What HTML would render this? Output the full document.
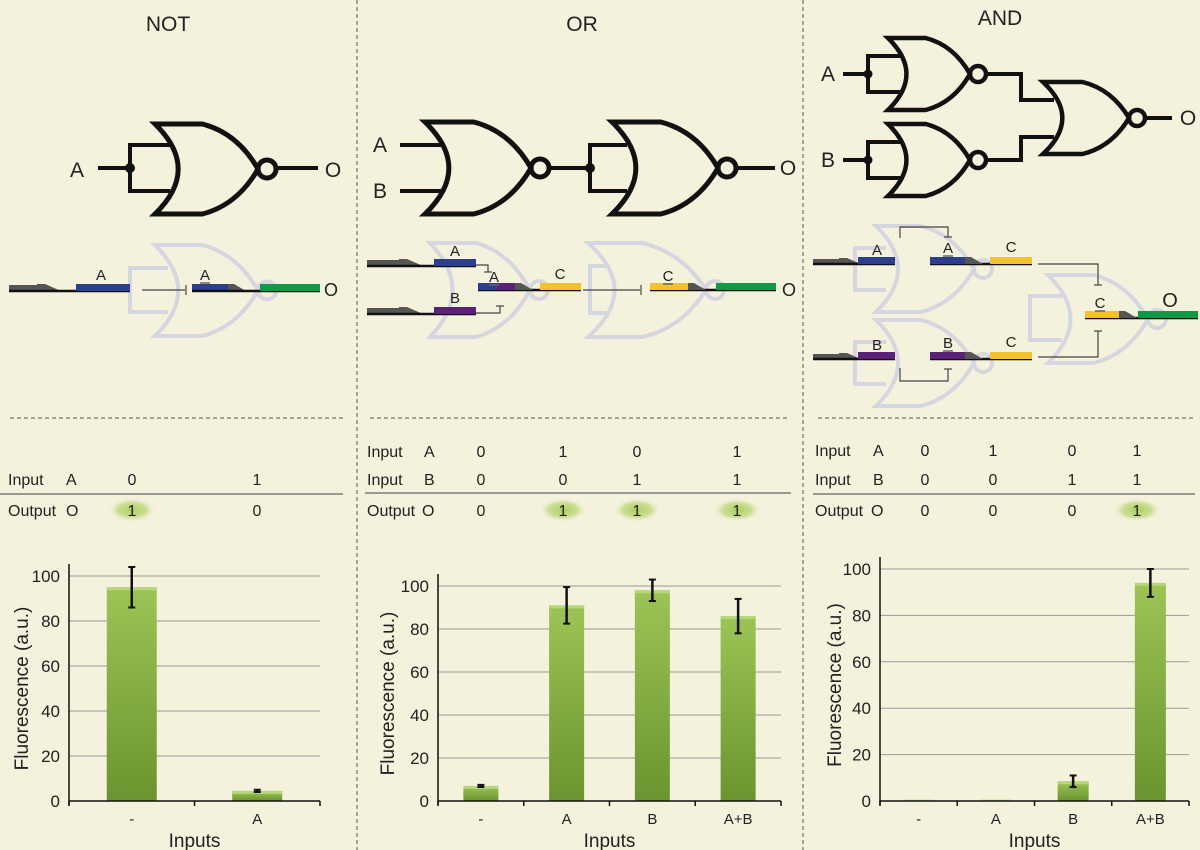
<!DOCTYPE html>
<html><head><meta charset="utf-8"><style>
html,body{margin:0;padding:0;background:#f4f1dc;}
svg{display:block;font-family:"Liberation Sans",sans-serif;}
</style></head><body>
<svg id="fig" width="1200" height="850" viewBox="0 0 1200 850">
<defs>
<linearGradient id="barg" x1="0" y1="0" x2="0" y2="1"><stop offset="0" stop-color="#9cc455"/><stop offset="1" stop-color="#6b9430"/></linearGradient>
<radialGradient id="glow"><stop offset="0" stop-color="#a9cc5a" stop-opacity="0.95"/><stop offset="0.6" stop-color="#b9d675" stop-opacity="0.7"/><stop offset="1" stop-color="#f4f1dc" stop-opacity="0"/></radialGradient>
</defs>
<rect width="1200" height="850" fill="#f4f1dc"/>
<g stroke="#555" stroke-width="1" stroke-dasharray="4,3">
<line x1="357" y1="0" x2="357" y2="850"/><line x1="803" y1="0" x2="803" y2="850"/>
<line x1="10" y1="418" x2="343" y2="418"/><line x1="370" y1="418" x2="790" y2="418"/><line x1="818" y1="418" x2="1193" y2="418"/>
</g>
<g font-size="21" fill="#222" text-anchor="middle">
<text x="168" y="31">NOT</text>
<text x="582" y="31">OR</text>
<text x="1000" y="25">AND</text>
</g>
<g id="gates"></g>
<g id="ghosts"></g>
<g id="genes"></g>
<g id="tables"></g>
<g id="charts"></g>
</svg>
<script>
// ---- chart data ----
const notCats = ["-","A"];
const notVals = [95,4.5];
const notErr = [9,0.5];
const orCats = ["-","A","B","A+B"];
const orVals = [7,91,98,86];
const orErr = [0.5,8.5,5,8];
const andCats = ["-","A","B","A+B"];
const andVals = [0.5,0.5,8.5,94];
const andErr = [0,0,2.5,6];
const yTicks = [0,20,40,60,80,100];

const NS="http://www.w3.org/2000/svg";
function mk(parent,tag,attrs,text){const e=document.createElementNS(NS,tag);for(const k in attrs)e.setAttribute(k,attrs[k]);if(text!==undefined)e.textContent=text;parent.appendChild(e);return e;}
function gatePath(x,yt,w,h){const yb=yt+h,ym=yt+h/2,f=x+0.46*w;return `M${x},${yt} L${f},${yt} Q${x+0.8*w},${yt+0.1*h} ${x+w},${ym} Q${x+0.8*w},${yb-0.1*h} ${f},${yb} L${x},${yb} Q${x+0.45*w},${ym} ${x},${yt} Z`;}

const G=document.getElementById('gates');
function gate(parent,x,yt,w,h,col,sw,r){
  const p=mk(parent,'path',{d:gatePath(x,yt,w,h),fill:'none',stroke:col,'stroke-width':sw,'stroke-linejoin':'miter'});
  
  
  const c=mk(parent,'circle',{cx:x+w+r,cy:yt+h/2,r:r,fill:'none',stroke:col,'stroke-width':sw});
  
  
}
function pl(parent,pts,col,sw){const e=mk(parent,'polyline',{points:pts,fill:'none',stroke:col,'stroke-width':sw});return e;}
function txt(parent,x,y,s,size,anchor,name){const t=mk(parent,'text',{x:x,y:y,'font-size':size,'text-anchor':anchor||'middle',fill:'#222'},s);return t;}

// NOT symbol
gate(G,155,124,103,90,'#111',5,9);
pl(G,"98,168 130,168",'#111',4);pl(G,"170,145 130,145 130,191 170,191",'#111',4);
mk(G,'circle',{cx:130,cy:168,r:5,fill:'#111'});
pl(G,"277,168 318,168",'#111',4);
txt(G,77,177,"A",21);txt(G,333,177,"O",21);
// OR symbol
gate(G,425,122,106,92,'#111',5,9);
pl(G,"400,145 442,145",'#111',4);pl(G,"400,191 442,191",'#111',4);
pl(G,"549,168 590,168",'#111',4);pl(G,"627,145 590,145 590,191 627,191",'#111',4);
mk(G,'circle',{cx:590,cy:168,r:5,fill:'#111'});
gate(G,612,122,106,92,'#111',5,9);
pl(G,"736,168 775,168",'#111',4);
txt(G,380,152,"A",21);txt(G,380,198,"B",21);txt(G,788,175,"O",21);
// AND symbol
gate(G,888,38,82,72,'#111',4.5,8);gate(G,888,124,82,72,'#111',4.5,8);
[74,160].forEach(y=>{pl(G,`843,${y} 868,${y}`,'#111',4);pl(G,`902,${y-18} 868,${y-18} 868,${y+18} 902,${y+18}`,'#111',4);mk(G,'circle',{cx:868,cy:y,r:4.5,fill:'#111'});});
pl(G,"987,74 1021,74 1021,100 1054,100",'#111',4);pl(G,"987,160 1021,160 1021,137 1054,137",'#111',4);
gate(G,1043,82,86,72,'#111',4.5,8);
pl(G,"1145,118 1172,118",'#111',4);
txt(G,828,81,"A",21);txt(G,828,167,"B",21);txt(G,1188,125,"O",21);

// ghost gates
const GH=document.getElementById('ghosts');
const gc='#d5d6df';
gate(GH,155,245,103,91,gc,4,9);pl(GH,"168,268 130,268 130,312 168,312",gc,4);
gate(GH,430,243,100,94,gc,4,9);
gate(GH,588,243,118,94,gc,4,9);pl(GH,"608,266 590,266 590,313 608,313",gc,4);
gate(GH,876,226,98,86,gc,4,9);pl(GH,"886,248 855,248 855,290 886,290",gc,4);
gate(GH,876,320,98,86,gc,4,9);pl(GH,"886,342 855,342 855,384 886,384",gc,4);
gate(GH,1048,275,100,88,gc,4,9);pl(GH,"1062,296 1030,296 1030,340 1062,340",gc,4);

// gene parts
const GN=document.getElementById('genes');
function promoter(x,y,len){pl(GN,`${x},${y} ${x+len},${y}`,'#555',6);mk(GN,'path',{d:`M${x+len-8},${y-4} L${x+len},${y-4} L${x+len+16},${y+3} L${x+len-8},${y+3}Z`,fill:'#555'});}
function box(x,y,w,col,name){const r=mk(GN,'rect',{x:x,y:y-7,width:w,height:7,fill:col});}
function base(x1,x2,y){pl(GN,`${x1},${y} ${x2},${y}`,'#111',2.5);}
function wedge(x,y){mk(GN,'path',{d:`M${x},${y-7} L${x+6},${y-7} L${x+18},${y} L${x},${y}Z`,fill:'#555'});}
function ul(x,y,s){txt(GN,x,y,s,15);pl(GN,`${x-5},${y+3} ${x+5},${y+3}`,'#666',1.5);}
const BL='#2b3f8c',PU='#5a2177',YE='#f2c12e',GR='#0d9a46';
// NOT genes
promoter(9,288,36);base(9,130,291);box(76,291,54,BL,'gene-a');txt(GN,101,280,"A",15);
pl(GN,"142,290 185,290",'#444',1.2);pl(GN,"186,285 186,295",'#444',1.2);
box(192,291,36,BL,'gene-a-site');wedge(228,291);base(192,320,291);box(260,291,60,GR,'gene-output');
ul(205,280,"A");txt(GN,331,296,"O",18);
// OR genes
promoter(367,263,40);base(367,476,266);box(434,266,42,BL,'gene-a');txt(GN,455,256,"A",15);
pl(GN,"476,265 488,265 488,272",'#444',1.2);pl(GN,"484,272 492,272",'#444',1.2);
promoter(367,311,40);base(367,476,314);box(434,314,42,PU,'gene-b');txt(GN,455,303,"B",15);
pl(GN,"476,313 500,313 500,306",'#444',1.2);pl(GN,"496,306 504,306",'#444',1.2);
base(478,581,290);box(478,290,19,BL);box(497,290,19,PU);wedge(515,290);box(540,290,41,YE,'gene-c');
ul(494,282,"A");txt(GN,560,279,"C",15);
pl(GN,"583,290 640,290",'#444',1.2);pl(GN,"641,285 641,295",'#444',1.2);
base(650,776,290);box(650,290,38,YE);wedge(688,290);box(716,290,60,GR,'gene-output');
ul(668,281,"C");txt(GN,789,296,"O",18);
// AND genes
[[263,BL,"A"],[358,PU,"B"]].forEach(([y,c,l])=>{
 promoter(813,y-1,34);base(813,895,y+1);box(858,y+1,37,c);txt(GN,877,y-8,l,15);
 base(930,1032,y+1);box(930,y+1,35,c);wedge(965,y+1);box(990,y+1,42,YE);
 ul(948,y-10,l);txt(GN,1011,y-11,"C",15);
});
pl(GN,"900,238 900,227 948,227 948,237",'#444',1.2);pl(GN,"944,237 952,237",'#444',1.2);
pl(GN,"900,368 900,381 948,381 948,369",'#444',1.2);pl(GN,"944,369 952,369",'#444',1.2);
pl(GN,"1038,264 1098,264 1098,285",'#444',1.2);pl(GN,"1094,285 1102,285",'#444',1.2);
pl(GN,"1038,357 1098,357 1098,331",'#444',1.2);pl(GN,"1094,331 1102,331",'#444',1.2);
base(1085,1198,318);box(1085,318,34,YE);wedge(1119,318);box(1138,318,60,GR,'gene-output');
ul(1100,308,"C");txt(GN,1170,307,"O",20);

// truth tables
const TB=document.getElementById('tables');
function glow(x,y){const e=mk(TB,'ellipse',{cx:x,cy:y,rx:24,ry:12,fill:'url(#glow)'});}
function row(x0,lbl,letter,xl,y,cols,vals,glowIdx){txt(TB,x0,y,lbl,16,'start','row-label');txt(TB,xl,y,letter,16,'start','row-letter');
 vals.forEach((v,i)=>{if(glowIdx&&v===1)glow(cols[i],y-6);txt(TB,cols[i],y,String(v),16,'middle','truth-value');});}
row(8,"Input","A",66,485,[132,257],[0,1]);
pl(TB,"0,494 343,494",'#666',1.2);
row(8,"Output","O",66,516,[132,257],[1,0],true);
const oc=[481,563,637,737];
row(367,"Input","A",424,457,oc,[0,1,0,1]);row(367,"Input","B",424,485,oc,[0,0,1,1]);
pl(TB,"365,493 791,493",'#666',1.2);
row(367,"Output","O",422,516,oc,[0,1,1,1],true);
const ac=[925,993,1072,1137];
row(815,"Input","A",873,456,ac,[0,1,0,1]);row(815,"Input","B",873,485,ac,[0,0,1,1]);
pl(TB,"813,494 1195,494",'#666',1.2);
row(815,"Output","O",871,516,ac,[0,0,0,1],true);

// charts
const CH=document.getElementById('charts');
function chart(cats,vals,errs,x0,x1,y0,y100,barW,ylx,name){
 const g=mk(CH,'g',{});
 const ys=v=>y0-(y0-y100)*v/100;
 const band=(x1-x0)/cats.length;const xc=i=>x0+band*(i+0.5);
 yTicks.forEach(t=>{if(t>0)mk(g,'line',{x1:x0,x2:x1,y1:ys(t),y2:ys(t),stroke:'#999','stroke-width':1});
  const tl=mk(g,'text',{x:x0-9,y:ys(t)+6,'font-size':17,'text-anchor':'end',fill:'#222'},String(t));});
 cats.forEach((c,i)=>{const v=vals[i];
  const b=mk(g,'rect',{x:xc(i)-barW/2,y:ys(v),width:barW,height:Math.max(1.5,y0-ys(v)),fill:'url(#barg)'});
  
  
  mk(g,'rect',{x:xc(i)-barW/2,y:ys(v),width:barW,height:Math.min(3,Math.max(1,y0-ys(v))),fill:'#b5d77a'});
  if(errs[i]>0){const e=errs[i];
   mk(g,'line',{x1:xc(i),x2:xc(i),y1:ys(v+e),y2:ys(v-e),stroke:'#111','stroke-width':2.5});
   mk(g,'line',{x1:xc(i)-3.5,x2:xc(i)+3.5,y1:ys(v+e),y2:ys(v+e),stroke:'#111','stroke-width':2});
   mk(g,'line',{x1:xc(i)-3.5,x2:xc(i)+3.5,y1:ys(v-e),y2:ys(v-e),stroke:'#111','stroke-width':2});}
  else if(v>2){mk(g,'rect',{x:xc(i)-2,y:ys(v)-2,width:4,height:4,fill:'#111'});}
  const cl=mk(g,'text',{x:xc(i),y:y0+23,'font-size':15,'text-anchor':'middle',fill:'#222'},c);
  
 });
 mk(g,'line',{x1:x0,x2:x0,y1:y100-12,y2:y0+4,stroke:'#111','stroke-width':1.5});
 mk(g,'line',{x1:x0,x2:x1,y1:y0,y2:y0,stroke:'#111','stroke-width':1.5});
 for(let i=0;i<=cats.length;i++)mk(g,'line',{x1:x0+band*i,x2:x0+band*i,y1:y0,y2:y0+5,stroke:'#111','stroke-width':1.5});
 const yl=mk(g,'text',{x:0,y:0,'font-size':19,'text-anchor':'middle',fill:'#222',transform:`translate(${ylx},${(y0+y100)/2}) rotate(-90)`},'Fluorescence (a.u.)');
 
 const xl=mk(g,'text',{x:(x0+x1)/2,y:y0+46,'font-size':19,'text-anchor':'middle',fill:'#222'},'Inputs');
 
}
chart(notCats,notVals,notErr,69,320,801,576,50,28,'not-chart');
chart(orCats,orVals,orErr,438,781,801,586,35,394,'or-chart');
chart(andCats,andVals,andErr,880,1189,801,569,31,841,'and-chart');
</script>
</body></html>
